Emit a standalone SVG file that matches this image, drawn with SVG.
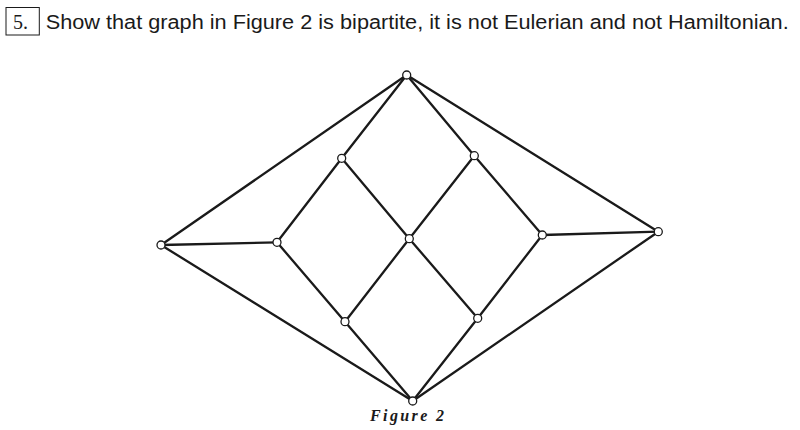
<svg xmlns="http://www.w3.org/2000/svg" width="800" height="430" viewBox="0 0 800 430">
<style>
.e{stroke:#1a1a1a;stroke-width:2.3;fill:none;stroke-linecap:round}
.n{fill:#fff;stroke:#1a1a1a;stroke-width:1.3}
.t{font-family:"Liberation Sans",Arial,sans-serif;font-size:20px;fill:#1a1a1a}
</style>
<rect width="800" height="430" fill="#fff"/>
<g id="title">
<rect x="6" y="7.5" width="33.3" height="27.5" fill="none" stroke="#1a1a1a" stroke-width="1"/>
<text x="13" y="28.5" font-family="'Liberation Serif',serif" font-size="20" fill="#1a1a1a">5.</text>
<text class="t" x="45.7" y="28.5" textLength="743" lengthAdjust="spacingAndGlyphs">Show that graph in Figure 2 is bipartite, it is not Eulerian and not Hamiltonian.</text>
</g>
<g id="edges">
<line class="e" x1="406.7" y1="75" x2="161" y2="245"/>
<line class="e" x1="406.7" y1="75" x2="341.7" y2="158.3"/>
<line class="e" x1="406.7" y1="75" x2="474.3" y2="155.7"/>
<line class="e" x1="406.7" y1="75" x2="658.3" y2="231.7"/>
<line class="e" x1="161" y1="245" x2="277" y2="242.3"/>
<line class="e" x1="161" y1="245" x2="412.7" y2="401"/>
<line class="e" x1="277" y1="242.3" x2="341.7" y2="158.3"/>
<line class="e" x1="277" y1="242.3" x2="345" y2="321.7"/>
<line class="e" x1="341.7" y1="158.3" x2="409.3" y2="238.7"/>
<line class="e" x1="474.3" y1="155.7" x2="409.3" y2="238.7"/>
<line class="e" x1="474.3" y1="155.7" x2="542.3" y2="235"/>
<line class="e" x1="409.3" y1="238.7" x2="345" y2="321.7"/>
<line class="e" x1="409.3" y1="238.7" x2="477.7" y2="318.3"/>
<line class="e" x1="345" y1="321.7" x2="412.7" y2="401"/>
<line class="e" x1="477.7" y1="318.3" x2="412.7" y2="401"/>
<line class="e" x1="542.3" y1="235" x2="477.7" y2="318.3"/>
<line class="e" x1="542.3" y1="235" x2="658.3" y2="231.7"/>
<line class="e" x1="658.3" y1="231.7" x2="412.7" y2="401"/>
</g>
<g id="v-top"><circle class="n" cx="406.7" cy="75" r="4"/></g>
<g id="v-ul"><circle class="n" cx="341.7" cy="158.3" r="4"/></g>
<g id="v-ur"><circle class="n" cx="474.3" cy="155.7" r="4"/></g>
<g id="v-left"><circle class="n" cx="161" cy="245" r="4"/></g>
<g id="v-ml"><circle class="n" cx="277" cy="242.3" r="4"/></g>
<g id="v-center"><circle class="n" cx="409.3" cy="238.7" r="4"/></g>
<g id="v-mr"><circle class="n" cx="542.3" cy="235" r="4"/></g>
<g id="v-right"><circle class="n" cx="658.3" cy="231.7" r="4"/></g>
<g id="v-ll"><circle class="n" cx="345" cy="321.7" r="4"/></g>
<g id="v-lr"><circle class="n" cx="477.7" cy="318.3" r="4"/></g>
<g id="v-bottom"><circle class="n" cx="412.7" cy="401" r="4"/></g>
<g id="caption">
<text x="370" y="421" font-family="'Liberation Serif',serif" font-style="italic" font-weight="bold" font-size="16" fill="#1a1a1a" textLength="74" lengthAdjust="spacing">Figure 2</text>
</g>
</svg>
